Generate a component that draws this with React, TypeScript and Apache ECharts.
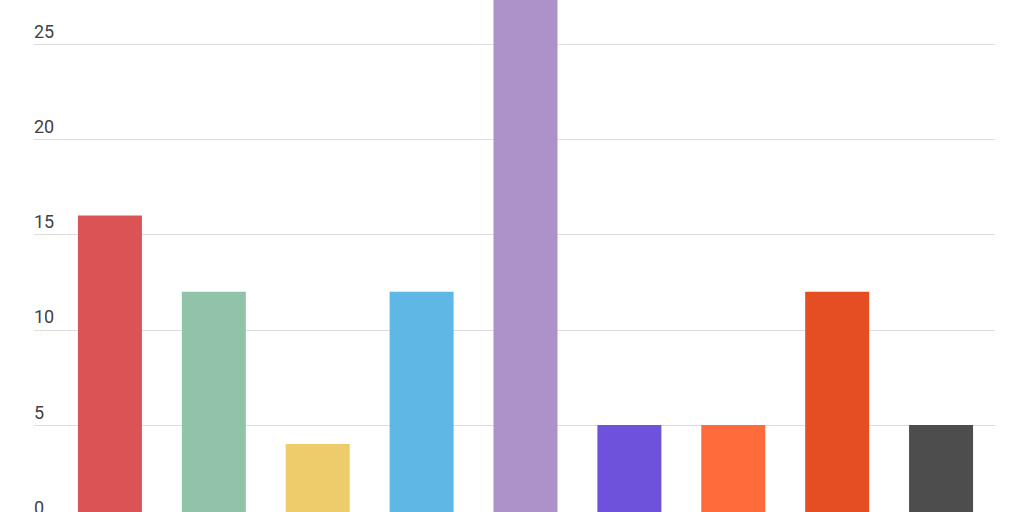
import React, { useEffect, useRef } from "react";
import * as echarts from "echarts";

const categories = ["A", "B", "C", "D", "E", "F", "G", "H", "I"];
const values = [16, 12, 4, 12, 30, 5, 5, 12, 5];
const colors = [
  "#dc5356",
  "#90c3a8",
  "#eecb6b",
  "#5eb7e5",
  "#ad92c9",
  "#6f52db",
  "#ff6b3a",
  "#e54e23",
  "#4d4d4d",
];
const yMin = 0;
const yMax = 30;
const yInterval = 5;

// Chart canvas is taller than the window and shifted up so the plot is clipped like the reference
const OFFSET_TOP = 80;
const CANVAS_H = 640;
const ZERO_Y = 520.25; // window y of value 0
const TOP_Y = -51.25; // window y of value 30

export default function App() {
  const ref = useRef<HTMLDivElement>(null);
  useEffect(() => {
    if (!ref.current) return;
    const chart = echarts.init(ref.current, undefined, { renderer: "svg" });
    const gTop = OFFSET_TOP + TOP_Y;
    const gBottom = CANVAS_H - (OFFSET_TOP + ZERO_Y);
    chart.setOption({
      animation: false,
      backgroundColor: "#ffffff",
      grid: [
        { left: 34, right: 29, top: gTop, bottom: gBottom },
        { left: 58, right: 31, top: gTop, bottom: gBottom },
      ],
      xAxis: [
        { type: "value", gridIndex: 0, show: false, min: 0, max: 1 },
        {
          type: "category",
          gridIndex: 1,
          data: categories,
          show: false,
          boundaryGap: true,
        },
      ],
      yAxis: [
        {
          type: "value",
          gridIndex: 0,
          min: yMin,
          max: yMax,
          interval: yInterval,
          axisLine: { show: false },
          axisTick: { show: false },
          splitLine: { lineStyle: { color: "#dcdcdc", width: 1 } },
          axisLabel: {
            inside: true,
            margin: 0,
            showMaxLabel: false,
            verticalAlign: "bottom",
            padding: [0, 0, 4, 0],
            color: "#424242",
            fontFamily: "Roboto",
            fontSize: 18,
          },
        },
        {
          type: "value",
          gridIndex: 1,
          min: yMin,
          max: yMax,
          interval: yInterval,
          show: false,
          splitLine: { show: false },
        },
      ],
      series: [
        {
          type: "bar",
          xAxisIndex: 1,
          yAxisIndex: 1,
          barWidth: 64,
          data: values.map((v, i) => ({ value: v, itemStyle: { color: colors[i] } })),
        },
      ],
    });
    return () => chart.dispose();
  }, []);
  return (
    <div
      ref={ref}
      style={{ position: "fixed", left: 0, top: -OFFSET_TOP, width: 1024, height: CANVAS_H }}
    />
  );
}
